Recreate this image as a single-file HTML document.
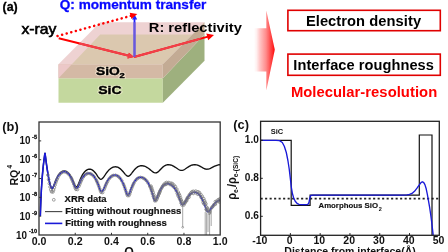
<!DOCTYPE html>
<html><head><meta charset="utf-8"><style>
html,body{margin:0;padding:0;background:#fff;}
svg{display:block;}
text{font-family:"Liberation Sans", Arial, sans-serif;}
</style></head><body>
<svg width="448" height="252" viewBox="0 0 448 252">
<defs>
<linearGradient id="gr" x1="254" y1="0" x2="275" y2="0" gradientUnits="userSpaceOnUse">
<stop offset="0" stop-color="#ffffff"/><stop offset="0.12" stop-color="#fff0f0"/><stop offset="0.29" stop-color="#ffc4c4"/><stop offset="0.57" stop-color="#ff8c8c"/><stop offset="0.76" stop-color="#ff5252"/><stop offset="0.95" stop-color="#ff1818"/><stop offset="1" stop-color="#ff0000"/>
</linearGradient>
<filter id="soft" x="-20%" y="-20%" width="140%" height="140%"><feGaussianBlur stdDeviation="0.45"/></filter>
<clipPath id="ctop"><polygon points="58.5,64.3 162.8,64.3 204.5,22.3 100.2,22.3 "/></clipPath>
</defs>
<rect width="448" height="252" fill="#fff"/>
<polygon points="58.5,78.2 162.8,78.2 162.8,102.8 58.5,102.8" fill="#c4d89e"/>
<polygon points="162.8,78.2 204.5,34.6 204.5,60.8 162.8,102.8" fill="#9eb07e"/>
<polygon points="58.5,64.3 162.8,64.3 204.5,22.3 100.2,22.3" fill="#eed2d2"/>
<polygon points="58.5,64.3 162.8,64.3 162.8,78.2 58.5,78.2" fill="#d4b9a5"/>
<polygon points="58.5,78.2 162.8,78.2 204.5,34.6 100.2,34.6" fill="#dbc8af" clip-path="url(#ctop)"/>
<polygon points="58.5,64.3 71.79,64.3 58.5,78.2" fill="#ecc8c8"/>
<polygon points="162.8,64.3 204.5,22.3 204.5,34.6 162.8,78.2" fill="#c3ab94"/>
<line x1="58.7" y1="38.3" x2="130.0" y2="56.0" stroke="#ff0000" stroke-width="2"/>
<polygon points="134,57 127.45,58.47 128.9,52.64" fill="#ff0000"/>
<line x1="134.0" y1="57.0" x2="209.0" y2="36.4" stroke="#ff0000" stroke-width="2"/>
<polygon points="214,35 208.18,40.23 206.32,33.48" fill="#ff0000"/>
<line x1="134.5" y1="57" x2="134.5" y2="19" stroke="#2020ff" stroke-width="1.8"/>
<polygon points="134.6,14.5 137.2,19.5 132,19.5" fill="#2020ff"/>
<defs><clipPath id="csio"><polygon points="58.5,64.3 162.8,64.3 204.5,22.3 100.2,22.3"/><polygon points="58.5,64.3 162.8,64.3 162.8,78.2 58.5,78.2"/><polygon points="162.8,64.3 204.5,22.3 204.5,34.6 162.8,78.2"/></clipPath></defs>
<g clip-path="url(#csio)"><line x1="58.7" y1="38.3" x2="130.0" y2="56.0" stroke="#f0404a" stroke-width="2"/><polygon points="134,57 127.45,58.47 128.9,52.64" fill="#f0404a"/><line x1="134.0" y1="57.0" x2="209.0" y2="36.4" stroke="#f0404a" stroke-width="2"/><line x1="134.5" y1="57" x2="134.5" y2="19" stroke="#6a58dc" stroke-width="1.8"/></g>
<line x1="57.5" y1="36.0" x2="131.3" y2="15.7" stroke="#ff0000" stroke-width="2.5" stroke-dasharray="0.1 4.65" stroke-linecap="round"/>
<polygon points="137.3,14.1 131.4,19.04 129.7,12.87" fill="#ff0000"/>
<text x="2.5" y="11.2" font-size="12.4" font-weight="bold" fill="#000" stroke="#000" stroke-width="0.3">(a)</text>
<text x="59.8" y="8.7" font-size="13.5" font-weight="bold" fill="#0808ff" stroke="#0808ff" stroke-width="0.3" textLength="146.5" lengthAdjust="spacingAndGlyphs">Q: momentum transfer</text>
<text x="21.5" y="33.6" font-size="15" fill="#000" stroke="#000" stroke-width="0.6" textLength="35" lengthAdjust="spacingAndGlyphs">x-ray</text>
<text x="148.8" y="32.1" font-size="12" font-weight="bold" fill="#000" textLength="93" lengthAdjust="spacingAndGlyphs">R: reflectivity</text>
<text x="96" y="74.8" font-size="10.5" font-weight="bold" fill="none" stroke="#fff6e0" stroke-width="2.2" stroke-opacity="0.55" stroke-linejoin="round" textLength="23.8" lengthAdjust="spacingAndGlyphs">SiO</text>
<text x="119.4" y="77.9" font-size="6.8" font-weight="bold" fill="none" stroke="#fff6e0" stroke-width="2.2" stroke-opacity="0.55" stroke-linejoin="round" textLength="5.2" lengthAdjust="spacingAndGlyphs">2</text>
<text x="98.2" y="93.7" font-size="10.5" font-weight="bold" fill="none" stroke="#fff6e0" stroke-width="2.2" stroke-opacity="0.55" stroke-linejoin="round" textLength="23.4" lengthAdjust="spacingAndGlyphs">SiC</text>
<text x="96" y="74.8" font-size="10.5" font-weight="bold" fill="#000" stroke="#000" stroke-width="0.35" textLength="23.8" lengthAdjust="spacingAndGlyphs">SiO</text>
<text x="119.4" y="77.9" font-size="6.8" font-weight="bold" fill="#000" stroke="#000" stroke-width="0.35" textLength="5.2" lengthAdjust="spacingAndGlyphs">2</text>
<text x="98.2" y="93.7" font-size="10.5" font-weight="bold" fill="#000" stroke="#000" stroke-width="0.35" textLength="23.4" lengthAdjust="spacingAndGlyphs">SiC</text>
<polygon points="254,28.2 266.3,28.2 266.3,10.5 274.8,49.8 266.3,90.5 266.3,71.4 254,71.4" fill="url(#gr)" filter="url(#soft)"/>
<rect x="287.9" y="10.3" width="152.4" height="20.4" fill="none" stroke="#e00000" stroke-width="1.6"/>
<rect x="287.9" y="54.1" width="152.4" height="21.2" fill="none" stroke="#e00000" stroke-width="1.6"/>
<text x="305.9" y="26.2" font-size="14.7" font-weight="bold" fill="#000" textLength="115.2" lengthAdjust="spacing">Electron density</text>
<text x="293.3" y="69.8" font-size="14.6" font-weight="bold" fill="#000" textLength="140.6" lengthAdjust="spacing">Interface roughness</text>
<text x="290.9" y="96.8" font-size="14.8" font-weight="bold" fill="#ff0000" textLength="146.3" lengthAdjust="spacing">Molecular-resolution</text>
<defs><clipPath id="cb"><rect x="39.0" y="122.0" width="181.2" height="113.0"/></clipPath></defs>
<g clip-path="url(#cb)">
<g stroke="#8a8a8a" stroke-width="0.75" fill="none"><line x1="182.7" y1="205" x2="182.7" y2="227"/><circle cx="182.7" cy="227.3" r="0.9"/><line x1="205.2" y1="212" x2="205.2" y2="235"/><line x1="206.6" y1="213" x2="206.6" y2="235"/><line x1="208.0" y1="214" x2="208.0" y2="232"/><line x1="209.6" y1="212" x2="209.6" y2="235"/><line x1="211.2" y1="210" x2="211.2" y2="226"/></g>
<path d="M40.32,216.09 L40.44,212 L40.56,208.31 L40.68,204.97 L40.8,201.9 L40.92,199.07 L41.04,196.44 L41.16,193.99 L41.28,191.69 L41.4,189.53 L41.52,187.48 L41.64,185.55 L41.76,183.71 L41.88,181.95 L42,180.28 L42.12,178.68 L42.24,177.15 L42.36,175.68 L42.48,174.26 L42.6,172.9 L42.72,171.59 L42.84,170.32 L42.96,169.09 L43.08,167.91 L43.2,166.76 L43.32,165.64 L43.44,164.56 L43.56,163.51 L43.68,162.49 L43.8,161.49 L43.92,160.53 L44.04,159.58 L44.16,158.66 L44.28,157.77 L44.4,156.89 L44.52,156.04 L44.64,155.2 L44.76,154.38 L44.88,153.58 L45,152.8 L45.77,158.93 L46.53,164.62 L47.3,169.84 L48.07,174.56 L48.83,178.75 L49.6,182.34 L50.37,185.28 L51.13,187.44 L51.9,188.5 L52.62,187.99 L53.35,186.65 L54.07,184.85 L54.79,182.92 L55.52,181.04 L56.24,179.3 L56.96,177.75 L57.69,176.38 L58.41,175.18 L59.14,174.16 L59.86,173.29 L60.58,172.58 L61.31,172 L62.03,171.56 L62.75,171.25 L63.48,171.06 L64.2,171 L64.92,171.06 L65.64,171.24 L66.35,171.54 L67.07,171.97 L67.79,172.53 L68.51,173.22 L69.22,174.06 L69.94,175.04 L70.66,176.17 L71.38,177.47 L72.09,178.93 L72.81,180.52 L73.53,182.22 L74.25,183.93 L74.96,185.47 L75.68,186.59 L76.4,187 L77.13,186.53 L77.87,185.27 L78.6,183.55 L79.33,181.69 L80.07,179.85 L80.8,178.14 L81.53,176.59 L82.27,175.2 L83,173.99 L83.73,172.93 L84.47,172.02 L85.2,171.25 L85.93,170.61 L86.67,170.1 L87.4,169.7 L88.13,169.42 L88.87,169.26 L89.6,169.2 L90.31,169.26 L91.01,169.42 L91.72,169.7 L92.42,170.1 L93.13,170.6 L93.84,171.22 L94.54,171.95 L95.25,172.78 L95.96,173.71 L96.66,174.71 L97.37,175.76 L98.08,176.8 L98.78,177.77 L99.49,178.57 L100.19,179.11 L100.9,179.3 L101.62,179.12 L102.35,178.61 L103.08,177.83 L103.8,176.88 L104.53,175.83 L105.25,174.75 L105.98,173.69 L106.7,172.68 L107.43,171.73 L108.15,170.86 L108.88,170.08 L109.6,169.38 L110.33,168.77 L111.05,168.24 L111.78,167.8 L112.5,167.44 L113.23,167.16 L113.95,166.96 L114.68,166.84 L115.4,166.8 L116.11,166.84 L116.81,166.97 L117.52,167.18 L118.22,167.48 L118.93,167.86 L119.63,168.33 L120.34,168.88 L121.04,169.51 L121.75,170.22 L122.46,170.99 L123.16,171.81 L123.87,172.67 L124.57,173.53 L125.28,174.36 L125.98,175.1 L126.69,175.68 L127.39,176.07 L128.1,176.2 L128.81,176.06 L129.51,175.64 L130.22,175 L130.92,174.21 L131.63,173.32 L132.33,172.4 L133.04,171.48 L133.74,170.59 L134.45,169.76 L135.15,168.99 L135.86,168.3 L136.56,167.69 L137.27,167.16 L137.97,166.71 L138.68,166.35 L139.38,166.06 L140.09,165.86 L140.79,165.74 L141.5,165.7 L142.22,165.73 L142.93,165.82 L143.65,165.97 L144.36,166.17 L145.07,166.43 L145.79,166.75 L146.5,167.12 L147.22,167.55 L147.94,168.02 L148.65,168.53 L149.37,169.08 L150.08,169.65 L150.8,170.23 L151.51,170.81 L152.23,171.36 L152.94,171.87 L153.66,172.29 L154.37,172.62 L155.09,172.83 L155.8,172.9 L156.54,172.78 L157.27,172.44 L158.01,171.91 L158.74,171.24 L159.48,170.49 L160.21,169.7 L160.95,168.92 L161.68,168.17 L162.42,167.47 L163.15,166.84 L163.89,166.28 L164.62,165.8 L165.36,165.41 L166.09,165.1 L166.83,164.88 L167.56,164.74 L168.3,164.7 L169.04,164.73 L169.78,164.82 L170.52,164.98 L171.26,165.19 L171.99,165.47 L172.73,165.8 L173.47,166.18 L174.21,166.6 L174.95,167.06 L175.69,167.55 L176.43,168.06 L177.17,168.56 L177.91,169.05 L178.64,169.49 L179.38,169.87 L180.12,170.16 L180.86,170.34 L181.6,170.4 L182.32,170.34 L183.04,170.16 L183.77,169.87 L184.49,169.49 L185.21,169.05 L185.93,168.56 L186.66,168.06 L187.38,167.55 L188.1,167.06 L188.82,166.6 L189.54,166.18 L190.27,165.8 L190.99,165.47 L191.71,165.19 L192.43,164.98 L193.16,164.82 L193.88,164.73 L194.6,164.7 L195.32,164.73 L196.05,164.82 L196.77,164.96 L197.49,165.16 L198.22,165.42 L198.94,165.72 L199.66,166.06 L200.39,166.44 L201.11,166.85 L201.84,167.27 L202.56,167.69 L203.28,168.09 L204.01,168.45 L204.73,168.76 L205.45,169 L206.18,169.15 L206.9,169.2 L207.62,169.16 L208.33,169.04 L209.05,168.85 L209.76,168.59 L210.48,168.28 L211.19,167.94 L211.91,167.58 L212.63,167.2 L213.34,166.83 L214.06,166.46 L214.77,166.12 L215.49,165.81 L216.21,165.52 L216.92,165.28 L217.64,165.07 L218.35,164.91 L219.07,164.79 L219.78,164.72 L220.5,164.7" fill="none" stroke="#111" stroke-width="1.35"/>
<path d="M40.32,216.09 L40.44,212 L40.56,208.31 L40.68,204.97 L40.8,201.9 L40.92,199.07 L41.04,196.44 L41.16,193.99 L41.28,191.69 L41.4,189.53 L41.52,187.48 L41.64,185.55 L41.76,183.71 L41.88,181.95 L42,180.28 L42.12,178.68 L42.24,177.15 L42.36,175.68 L42.48,174.26 L42.6,172.9 L42.72,171.59 L42.84,170.32 L42.96,169.09 L43.08,167.91 L43.2,166.76 L43.32,165.64 L43.44,164.56 L43.56,163.51 L43.68,162.49 L43.8,161.49 L43.92,160.53 L44.04,159.58 L44.16,158.66 L44.28,157.77 L44.4,156.89 L44.52,156.04 L44.64,155.2 L44.76,154.38 L44.88,153.58 L45,152.8 L45.77,158.93 L46.53,164.62 L47.3,169.84 L48.07,174.56 L48.83,178.75 L49.6,182.34 L50.37,185.28 L51.13,187.44 L51.9,188.5 L52.62,188.03 L53.35,186.79 L54.07,185.09 L54.79,183.25 L55.52,181.44 L56.24,179.76 L56.96,178.24 L57.69,176.9 L58.41,175.73 L59.14,174.72 L59.86,173.87 L60.58,173.16 L61.31,172.59 L62.03,172.15 L62.75,171.84 L63.48,171.66 L64.2,171.6 L64.92,171.66 L65.64,171.84 L66.35,172.15 L67.07,172.59 L67.79,173.15 L68.51,173.86 L69.22,174.71 L69.94,175.72 L70.66,176.89 L71.38,178.22 L72.09,179.73 L72.81,181.41 L73.53,183.2 L74.25,185.03 L74.96,186.71 L75.68,187.94 L76.4,188.4 L77.12,188.03 L77.84,187.03 L78.55,185.61 L79.27,184.03 L79.99,182.43 L80.71,180.9 L81.42,179.51 L82.14,178.25 L82.86,177.15 L83.58,176.19 L84.29,175.38 L85.01,174.7 L85.73,174.15 L86.45,173.73 L87.16,173.44 L87.88,173.26 L88.6,173.2 L89.32,173.26 L90.04,173.42 L90.77,173.71 L91.49,174.1 L92.21,174.63 L92.93,175.27 L93.66,176.05 L94.38,176.98 L95.1,178.06 L95.82,179.3 L96.54,180.71 L97.27,182.31 L97.99,184.08 L98.71,186 L99.43,187.98 L100.16,189.81 L100.88,191.18 L101.6,191.7 L102.33,191.29 L103.07,190.19 L103.8,188.66 L104.53,186.96 L105.27,185.26 L106,183.65 L106.73,182.17 L107.47,180.84 L108.2,179.67 L108.93,178.64 L109.67,177.76 L110.4,177.01 L111.13,176.38 L111.87,175.88 L112.6,175.49 L113.33,175.22 L114.07,175.05 L114.8,175 L115.53,175.06 L116.26,175.23 L116.98,175.52 L117.71,175.93 L118.44,176.46 L119.17,177.12 L119.89,177.93 L120.62,178.88 L121.35,180 L122.08,181.3 L122.81,182.79 L123.53,184.48 L124.26,186.4 L124.99,188.51 L125.72,190.74 L126.44,192.89 L127.17,194.55 L127.9,195.2 L128.64,194.66 L129.38,193.24 L130.12,191.35 L130.86,189.33 L131.61,187.39 L132.35,185.62 L133.09,184.03 L133.83,182.64 L134.57,181.43 L135.31,180.39 L136.05,179.51 L136.79,178.79 L137.54,178.21 L138.28,177.76 L139.02,177.45 L139.76,177.26 L140.5,177.2 L141.22,177.25 L141.95,177.39 L142.68,177.63 L143.4,177.97 L144.12,178.41 L144.85,178.97 L145.57,179.63 L146.3,180.42 L147.03,181.34 L147.75,182.41 L148.47,183.64 L149.2,185.05 L149.93,186.65 L150.65,188.48 L151.38,190.55 L152.1,192.86 L152.82,195.35 L153.55,197.83 L154.28,199.81 L155,200.6 L155.73,200.13 L156.46,198.87 L157.19,197.15 L157.92,195.29 L158.65,193.47 L159.38,191.78 L160.11,190.26 L160.84,188.91 L161.56,187.74 L162.29,186.73 L163.02,185.87 L163.75,185.16 L164.48,184.59 L165.21,184.15 L165.94,183.85 L166.67,183.66 L167.4,183.6 L168.11,183.64 L168.83,183.77 L169.54,183.98 L170.26,184.28 L170.97,184.68 L171.69,185.16 L172.4,185.75 L173.11,186.44 L173.83,187.24 L174.54,188.16 L175.26,189.21 L175.97,190.4 L176.69,191.75 L177.4,193.26 L178.11,194.94 L178.83,196.79 L179.54,198.79 L180.26,200.83 L180.97,202.74 L181.69,204.16 L182.4,204.7 L183.11,204.45 L183.81,203.76 L184.52,202.74 L185.22,201.54 L185.93,200.28 L186.64,199.03 L187.34,197.85 L188.05,196.76 L188.75,195.79 L189.46,194.94 L190.16,194.2 L190.87,193.58 L191.58,193.08 L192.28,192.69 L192.99,192.42 L193.69,192.25 L194.4,192.2 L195.11,192.25 L195.81,192.4 L196.52,192.66 L197.22,193.02 L197.93,193.49 L198.63,194.08 L199.34,194.79 L200.04,195.63 L200.75,196.6 L201.45,197.73 L202.16,199.01 L202.86,200.47 L203.57,202.1 L204.27,203.91 L204.98,205.87 L205.68,207.89 L206.39,209.76 L207.09,211.17 L207.8,211.7 L208.51,211.51 L209.21,210.97 L209.92,210.17 L210.62,209.18 L211.33,208.11 L212.03,207.03 L212.74,205.98 L213.44,204.98 L214.15,204.08 L214.86,203.26 L215.56,202.53 L216.27,201.91 L216.97,201.38 L217.68,200.96 L218.38,200.62 L219.09,200.39 L219.79,200.25 L220.5,200.2" fill="none" stroke="#1a1ad8" stroke-width="1.6"/>
<g fill="none" stroke="#777" stroke-width="0.8" opacity="0.95"><circle cx="47.88" cy="175.05" r="1.3"/><circle cx="48.6" cy="179.54" r="1.3"/><circle cx="49.32" cy="183.52" r="1.3"/><circle cx="50.04" cy="186.94" r="1.3"/><circle cx="50.76" cy="189.74" r="1.3"/><circle cx="51.48" cy="191.79" r="1.3"/><circle cx="52.91" cy="192" r="1.3"/><circle cx="53.61" cy="190.01" r="1.3"/><circle cx="54.32" cy="187.54" r="1.3"/><circle cx="55.02" cy="185.07" r="1.3"/><circle cx="55.73" cy="182.81" r="1.3"/><circle cx="56.44" cy="180.8" r="1.3"/><circle cx="57.14" cy="179.05" r="1.3"/><circle cx="57.85" cy="177.54" r="1.3"/><circle cx="59.26" cy="175.14" r="1.3"/><circle cx="60.67" cy="173.46" r="1.3"/><circle cx="62.08" cy="172.39" r="1.3"/><circle cx="64.2" cy="171.8" r="1.3"/><circle cx="66.41" cy="172.37" r="1.3"/><circle cx="67.88" cy="173.39" r="1.3"/><circle cx="69.35" cy="175" r="1.3"/><circle cx="70.82" cy="177.26" r="1.3"/><circle cx="71.55" cy="178.66" r="1.3"/><circle cx="72.29" cy="180.26" r="1.3"/><circle cx="73.02" cy="182.06" r="1.3"/><circle cx="73.76" cy="184.02" r="1.3"/><circle cx="74.49" cy="186.06" r="1.3"/><circle cx="75.23" cy="187.99" r="1.3"/><circle cx="75.96" cy="189.44" r="1.3"/><circle cx="77.44" cy="189.5" r="1.3"/><circle cx="78.93" cy="186.38" r="1.3"/><circle cx="79.67" cy="184.46" r="1.3"/><circle cx="80.42" cy="182.6" r="1.3"/><circle cx="81.16" cy="180.9" r="1.3"/><circle cx="81.91" cy="179.38" r="1.3"/><circle cx="83.39" cy="176.92" r="1.3"/><circle cx="84.88" cy="175.15" r="1.3"/><circle cx="86.37" cy="174.02" r="1.3"/><circle cx="87.86" cy="173.47" r="1.3"/><circle cx="90.08" cy="173.63" r="1.3"/><circle cx="91.56" cy="174.32" r="1.3"/><circle cx="93.03" cy="175.51" r="1.3"/><circle cx="94.51" cy="177.25" r="1.3"/><circle cx="95.99" cy="179.63" r="1.3"/><circle cx="96.73" cy="181.1" r="1.3"/><circle cx="97.47" cy="182.76" r="1.3"/><circle cx="98.21" cy="184.62" r="1.3"/><circle cx="98.94" cy="186.67" r="1.3"/><circle cx="99.68" cy="188.81" r="1.3"/><circle cx="100.42" cy="190.85" r="1.3"/><circle cx="101.16" cy="192.4" r="1.3"/><circle cx="102.62" cy="192.53" r="1.3"/><circle cx="104.05" cy="189.55" r="1.3"/><circle cx="104.77" cy="187.69" r="1.3"/><circle cx="105.48" cy="185.85" r="1.3"/><circle cx="106.2" cy="184.14" r="1.3"/><circle cx="106.92" cy="182.59" r="1.3"/><circle cx="107.63" cy="181.2" r="1.3"/><circle cx="109.07" cy="178.93" r="1.3"/><circle cx="110.5" cy="177.25" r="1.3"/><circle cx="111.93" cy="176.1" r="1.3"/><circle cx="113.37" cy="175.42" r="1.3"/><circle cx="115.51" cy="175.25" r="1.3"/><circle cx="117.62" cy="176.04" r="1.3"/><circle cx="119.03" cy="177.12" r="1.3"/><circle cx="120.44" cy="178.7" r="1.3"/><circle cx="121.85" cy="180.86" r="1.3"/><circle cx="123.26" cy="183.71" r="1.3"/><circle cx="123.97" cy="185.44" r="1.3"/><circle cx="124.67" cy="187.37" r="1.3"/><circle cx="125.38" cy="189.5" r="1.3"/><circle cx="126.08" cy="191.74" r="1.3"/><circle cx="126.79" cy="193.89" r="1.3"/><circle cx="127.49" cy="195.55" r="1.3"/><circle cx="128.92" cy="195.6" r="1.3"/><circle cx="129.65" cy="194.04" r="1.3"/><circle cx="130.37" cy="192" r="1.3"/><circle cx="131.09" cy="189.86" r="1.3"/><circle cx="131.82" cy="187.83" r="1.3"/><circle cx="132.54" cy="185.99" r="1.3"/><circle cx="133.26" cy="184.36" r="1.3"/><circle cx="133.99" cy="182.93" r="1.3"/><circle cx="135.44" cy="180.63" r="1.3"/><circle cx="136.88" cy="179.01" r="1.3"/><circle cx="138.33" cy="177.97" r="1.3"/><circle cx="140.5" cy="177.41" r="1.3"/><circle cx="142.63" cy="177.82" r="1.3"/><circle cx="144.05" cy="178.54" r="1.3"/><circle cx="145.4" cy="179.61" r="1.3"/><circle cx="146.82" cy="181.02" r="1.3"/><circle cx="148.17" cy="183.14" r="1.3"/><circle cx="149.62" cy="185.97" r="1.3"/><circle cx="150.46" cy="187.5" r="1.3"/><circle cx="151.07" cy="186.13" r="1.3"/><circle cx="151.18" cy="189.57" r="1.3"/><circle cx="151.77" cy="188.08" r="1.3"/><circle cx="151.71" cy="191.31" r="1.3"/><circle cx="152.48" cy="190.19" r="1.3"/><circle cx="152.41" cy="193.81" r="1.3"/><circle cx="153.18" cy="192.32" r="1.3"/><circle cx="153.28" cy="196.21" r="1.3"/><circle cx="153.89" cy="194.85" r="1.3"/><circle cx="153.97" cy="198.44" r="1.3"/><circle cx="154.59" cy="197.29" r="1.3"/><circle cx="154.71" cy="200.79" r="1.3"/><circle cx="155.3" cy="199.2" r="1.3"/><circle cx="156" cy="200.68" r="1.3"/><circle cx="156.71" cy="199.43" r="1.3"/><circle cx="157.38" cy="197.92" r="1.3"/><circle cx="158.14" cy="196.17" r="1.3"/><circle cx="158.11" cy="195.69" r="1.3"/><circle cx="158.85" cy="194.22" r="1.3"/><circle cx="158.94" cy="193.62" r="1.3"/><circle cx="159.56" cy="192.62" r="1.3"/><circle cx="159.43" cy="192.44" r="1.3"/><circle cx="160.27" cy="190.61" r="1.3"/><circle cx="160.14" cy="190.83" r="1.3"/><circle cx="160.98" cy="188.97" r="1.3"/><circle cx="161.77" cy="187.86" r="1.3"/><circle cx="162.41" cy="186.55" r="1.3"/><circle cx="162.96" cy="185.65" r="1.3"/><circle cx="163.83" cy="184.45" r="1.3"/><circle cx="164.63" cy="184.83" r="1.3"/><circle cx="165.25" cy="183.14" r="1.3"/><circle cx="165.94" cy="184.43" r="1.3"/><circle cx="166.68" cy="182.42" r="1.3"/><circle cx="167.97" cy="183.56" r="1.3"/><circle cx="168.83" cy="182.48" r="1.3"/><circle cx="170.16" cy="184.59" r="1.3"/><circle cx="171.01" cy="183.13" r="1.3"/><circle cx="171.72" cy="184.9" r="1.3"/><circle cx="172.47" cy="183.59" r="1.3"/><circle cx="173.13" cy="186.6" r="1.3"/><circle cx="173.93" cy="185.07" r="1.3"/><circle cx="174.97" cy="188.29" r="1.3"/><circle cx="175.39" cy="186.56" r="1.3"/><circle cx="176.14" cy="190.71" r="1.3"/><circle cx="176.84" cy="189.09" r="1.3"/><circle cx="177.24" cy="193.48" r="1.3"/><circle cx="178.3" cy="192.23" r="1.3"/><circle cx="177.95" cy="195.74" r="1.3"/><circle cx="179.03" cy="193.95" r="1.3"/><circle cx="179.04" cy="197.54" r="1.3"/><circle cx="179.76" cy="195.55" r="1.3"/><circle cx="179.65" cy="199.28" r="1.3"/><circle cx="180.49" cy="197.61" r="1.3"/><circle cx="180.74" cy="200.74" r="1.3"/><circle cx="181.21" cy="199.73" r="1.3"/><circle cx="181.04" cy="203.03" r="1.3"/><circle cx="181.94" cy="201.56" r="1.3"/><circle cx="181.98" cy="205.02" r="1.3"/><circle cx="182.67" cy="203.08" r="1.3"/><circle cx="183.79" cy="205.1" r="1.3"/><circle cx="184.13" cy="203.46" r="1.3"/><circle cx="184.9" cy="203.16" r="1.3"/><circle cx="185.59" cy="201.32" r="1.3"/><circle cx="185.58" cy="201.82" r="1.3"/><circle cx="186.32" cy="200.12" r="1.3"/><circle cx="186.77" cy="200.7" r="1.3"/><circle cx="187.06" cy="198.32" r="1.3"/><circle cx="187.5" cy="198.51" r="1.3"/><circle cx="187.79" cy="197.24" r="1.3"/><circle cx="188.98" cy="197.23" r="1.3"/><circle cx="189.25" cy="195.23" r="1.3"/><circle cx="189.63" cy="194.6" r="1.3"/><circle cx="190.71" cy="193.44" r="1.3"/><circle cx="191.21" cy="192.54" r="1.3"/><circle cx="192.18" cy="191.53" r="1.3"/><circle cx="193.24" cy="193.49" r="1.3"/><circle cx="193.64" cy="191.29" r="1.3"/><circle cx="195.36" cy="192.8" r="1.3"/><circle cx="195.82" cy="191.09" r="1.3"/><circle cx="197.72" cy="194.3" r="1.3"/><circle cx="197.98" cy="191.78" r="1.3"/><circle cx="199.26" cy="194.06" r="1.3"/><circle cx="199.43" cy="192.52" r="1.3"/><circle cx="200.76" cy="196.66" r="1.3"/><circle cx="200.87" cy="194.46" r="1.3"/><circle cx="201.53" cy="198.02" r="1.3"/><circle cx="202.31" cy="196.37" r="1.3"/><circle cx="202.67" cy="200.31" r="1.3"/><circle cx="203.75" cy="198.66" r="1.3"/><circle cx="203.16" cy="202.58" r="1.3"/><circle cx="204.47" cy="200.68" r="1.3"/><circle cx="203.87" cy="203.87" r="1.3"/><circle cx="205.19" cy="202.3" r="1.3"/><circle cx="205.23" cy="205.19" r="1.3"/><circle cx="205.92" cy="203.84" r="1.3"/><circle cx="206.32" cy="209.68" r="1.3"/><circle cx="206.64" cy="207.1" r="1.3"/><circle cx="206.35" cy="209.19" r="1.3"/><circle cx="207.36" cy="208.18" r="1.3"/><circle cx="207.07" cy="210.93" r="1.3"/><circle cx="208.08" cy="210.16" r="1.3"/><circle cx="209.4" cy="213.15" r="1.3"/><circle cx="209.53" cy="210.71" r="1.3"/><circle cx="209.8" cy="211.83" r="1.3"/><circle cx="210.99" cy="208.65" r="1.3"/><circle cx="212.03" cy="207.11" r="1.3"/><circle cx="212.45" cy="207" r="1.3"/><circle cx="213.48" cy="205.72" r="1.3"/><circle cx="213.91" cy="204.63" r="1.3"/><circle cx="215.32" cy="204.33" r="1.3"/><circle cx="215.36" cy="201.53" r="1.3"/><circle cx="215.49" cy="203.45" r="1.3"/><circle cx="216.82" cy="201.07" r="1.3"/><circle cx="218.15" cy="201.12" r="1.3"/><circle cx="218.28" cy="199.54" r="1.3"/><circle cx="219.13" cy="201.96" r="1.3"/><circle cx="219.74" cy="198.99" r="1.3"/></g>
</g>
<rect x="39.0" y="122.0" width="181.2" height="113.0" fill="none" stroke="#333" stroke-width="1.3"/>
<g stroke="#333" stroke-width="1"><line x1="39.0" y1="216.18" x2="41.2" y2="216.18"/><line x1="39.0" y1="197.36" x2="41.2" y2="197.36"/><line x1="39.0" y1="178.54" x2="41.2" y2="178.54"/><line x1="39.0" y1="159.72" x2="41.2" y2="159.72"/><line x1="39.0" y1="140.9" x2="41.2" y2="140.9"/><line x1="75.24" y1="235.0" x2="75.24" y2="232.8"/><line x1="111.48" y1="235.0" x2="111.48" y2="232.8"/><line x1="147.72" y1="235.0" x2="147.72" y2="232.8"/><line x1="183.96" y1="235.0" x2="183.96" y2="232.8"/></g>
<text x="29" y="233.4" font-size="5.7" font-weight="bold" fill="#111" stroke="#111" stroke-width="0.3" textLength="8.1" lengthAdjust="spacingAndGlyphs">-10</text>
<text x="16" y="238.5" font-size="10.3" font-weight="bold" fill="#111" textLength="11" lengthAdjust="spacingAndGlyphs">10</text>
<text x="32.1" y="214.58" font-size="5.7" font-weight="bold" fill="#111" stroke="#111" stroke-width="0.3" textLength="5.0" lengthAdjust="spacingAndGlyphs">-9</text>
<text x="19.6" y="219.68" font-size="10.3" font-weight="bold" fill="#111" textLength="11" lengthAdjust="spacingAndGlyphs">10</text>
<text x="32.1" y="195.76" font-size="5.7" font-weight="bold" fill="#111" stroke="#111" stroke-width="0.3" textLength="5.0" lengthAdjust="spacingAndGlyphs">-8</text>
<text x="19.6" y="200.86" font-size="10.3" font-weight="bold" fill="#111" textLength="11" lengthAdjust="spacingAndGlyphs">10</text>
<text x="32.1" y="176.94" font-size="5.7" font-weight="bold" fill="#111" stroke="#111" stroke-width="0.3" textLength="5.0" lengthAdjust="spacingAndGlyphs">-7</text>
<text x="19.6" y="182.04" font-size="10.3" font-weight="bold" fill="#111" textLength="11" lengthAdjust="spacingAndGlyphs">10</text>
<text x="32.1" y="158.12" font-size="5.7" font-weight="bold" fill="#111" stroke="#111" stroke-width="0.3" textLength="5.0" lengthAdjust="spacingAndGlyphs">-6</text>
<text x="19.6" y="163.22" font-size="10.3" font-weight="bold" fill="#111" textLength="11" lengthAdjust="spacingAndGlyphs">10</text>
<text x="32.1" y="139.3" font-size="5.7" font-weight="bold" fill="#111" stroke="#111" stroke-width="0.3" textLength="5.0" lengthAdjust="spacingAndGlyphs">-5</text>
<text x="19.6" y="144.4" font-size="10.3" font-weight="bold" fill="#111" textLength="11" lengthAdjust="spacingAndGlyphs">10</text>
<text x="39" y="244.6" font-size="10.6" font-weight="bold" fill="#111" text-anchor="middle">0.0</text>
<text x="75.24" y="244.6" font-size="10.6" font-weight="bold" fill="#111" text-anchor="middle">0.2</text>
<text x="111.48" y="244.6" font-size="10.6" font-weight="bold" fill="#111" text-anchor="middle">0.4</text>
<text x="147.72" y="244.6" font-size="10.6" font-weight="bold" fill="#111" text-anchor="middle">0.6</text>
<text x="183.96" y="244.6" font-size="10.6" font-weight="bold" fill="#111" text-anchor="middle">0.8</text>
<text x="220.2" y="244.6" font-size="10.6" font-weight="bold" fill="#111" text-anchor="middle">1.0</text>
<text x="124.2" y="255.6" font-size="12.3" font-weight="bold" fill="#111">Q</text>
<text transform="translate(17.9,185.6) rotate(-90)" font-size="11.2" font-weight="bold" fill="#111" textLength="16" lengthAdjust="spacingAndGlyphs">RQ</text>
<text transform="translate(11.8,168.6) rotate(-90)" font-size="6.4" font-weight="bold" fill="#111">4</text>
<text x="2.3" y="130.9" font-size="12.8" font-weight="bold" fill="#111">(b)</text>
<circle cx="53.8" cy="199.8" r="1.4" fill="none" stroke="#888" stroke-width="0.8"/>
<line x1="45" y1="211.6" x2="62.3" y2="211.6" stroke="#444" stroke-width="1.1"/>
<line x1="45" y1="223.4" x2="62.3" y2="223.4" stroke="#1a1ad8" stroke-width="1.6"/>
<text x="64.6" y="202.4" font-size="9.4" font-weight="bold" fill="#111" stroke="#111" stroke-width="0.2" textLength="42" lengthAdjust="spacingAndGlyphs">XRR data</text>
<text x="65.2" y="213.8" font-size="9.4" font-weight="bold" fill="#111" stroke="#111" stroke-width="0.2" textLength="116" lengthAdjust="spacingAndGlyphs">Fitting without roughness</text>
<text x="65.2" y="225.9" font-size="9.4" font-weight="bold" fill="#111" stroke="#111" stroke-width="0.2" textLength="101.5" lengthAdjust="spacingAndGlyphs">Fitting with roughness</text>
<defs><clipPath id="cc"><rect x="260.6" y="121.3" width="178.7" height="114.00000000000001"/></clipPath></defs>
<g clip-path="url(#cc)">
<line x1="260.6" y1="198.6" x2="439.3" y2="198.6" stroke="#222" stroke-width="1.6" stroke-dasharray="2.1 2.4"/>
<polyline points="260.6,140.3 291.2,140.3 291.2,205.3 310.1,205.3 310.1,195.1 419.3,195.1 419.3,135 432,135 432,240" fill="none" stroke="#111" stroke-width="1.2"/>
<path d="M260.6,140.3 L276,140.3 L279.5,140.6 L282.3,142.5 L284.3,146.3 L286.3,152.5 L287.9,160.5 L289.2,169 L290.2,177.5 L291.3,187 L292.4,193.5 L293.6,197.8 L295.2,201.3 L297,203.3 L299,204.3 L302,204.6 L306.8,204.6 L308.2,204.1 L309,202.3 L309.6,199 L310.3,196.3 L311.2,195.3 L313,195.1 L404,195.1 L407,194.9 L409.5,194.4 L412,193.4 L414.5,191.3 L417,188.2 L419.3,184.8 L421,182.6 L422.3,181.8 L423.6,182.3 L424.9,184.6 L426.2,188.8 L427.4,194.6 L428.5,200.8 L429.6,207.2 L430.6,214 L431.6,221.5 L432.5,229 L433.4,237" fill="none" stroke="#1a1ad8" stroke-width="1.35" stroke-linejoin="round"/>
</g>
<rect x="260.6" y="121.3" width="178.7" height="114.00000000000001" fill="none" stroke="#222" stroke-width="1.3"/>
<g stroke="#222" stroke-width="1"><line x1="260.6" y1="216.3" x2="262.8" y2="216.3"/><line x1="260.6" y1="178.3" x2="262.8" y2="178.3"/><line x1="260.6" y1="140.3" x2="262.8" y2="140.3"/><line x1="290.38" y1="235.3" x2="290.38" y2="233.10000000000002"/><line x1="320.17" y1="235.3" x2="320.17" y2="233.10000000000002"/><line x1="349.95" y1="235.3" x2="349.95" y2="233.10000000000002"/><line x1="379.73" y1="235.3" x2="379.73" y2="233.10000000000002"/><line x1="409.52" y1="235.3" x2="409.52" y2="233.10000000000002"/></g>
<text x="258.9" y="219.1" font-size="10.1" font-weight="bold" fill="#111" text-anchor="end">0.6</text>
<text x="258.9" y="181.1" font-size="10.1" font-weight="bold" fill="#111" text-anchor="end">0.8</text>
<text x="258.9" y="143.1" font-size="10.1" font-weight="bold" fill="#111" text-anchor="end">1.0</text>
<text x="259.8" y="243.8" font-size="10.5" font-weight="bold" fill="#111" text-anchor="middle">-10</text>
<text x="289.58" y="243.8" font-size="10.5" font-weight="bold" fill="#111" text-anchor="middle">0</text>
<text x="319.37" y="243.8" font-size="10.5" font-weight="bold" fill="#111" text-anchor="middle">10</text>
<text x="349.15" y="243.8" font-size="10.5" font-weight="bold" fill="#111" text-anchor="middle">20</text>
<text x="378.93" y="243.8" font-size="10.5" font-weight="bold" fill="#111" text-anchor="middle">30</text>
<text x="408.72" y="243.8" font-size="10.5" font-weight="bold" fill="#111" text-anchor="middle">40</text>
<text x="438.5" y="243.8" font-size="10.5" font-weight="bold" fill="#111" text-anchor="middle">50</text>
<text x="284.3" y="254.5" font-size="10" font-weight="bold" fill="#111" textLength="131.5" lengthAdjust="spacingAndGlyphs">Distance from interface(Å)</text>
<text x="233.3" y="128.8" font-size="12.8" font-weight="bold" fill="#111">(c)</text>
<text x="270.8" y="134" font-size="7.6" font-weight="bold" fill="#111" textLength="12.5" lengthAdjust="spacingAndGlyphs">SiC</text>
<text x="318.5" y="207.8" font-size="8" font-weight="bold" fill="#111" stroke="#111" stroke-width="0.15" textLength="59.5" lengthAdjust="spacingAndGlyphs">Amorphous SiO</text>
<text x="378.7" y="211.4" font-size="5.5" font-weight="bold" fill="#111">2</text>
<text transform="translate(235.6,199.8) rotate(-90)" font-size="12" font-weight="bold" fill="#111" textLength="44" lengthAdjust="spacingAndGlyphs">ρ<tspan font-size="7.2" font-weight="bold" dy="2.8">e-</tspan><tspan dy="-2.8">/ρ</tspan><tspan font-size="7.2" font-weight="bold" dy="2.8">e-(SiC)</tspan></text>
</svg>
</body></html>
